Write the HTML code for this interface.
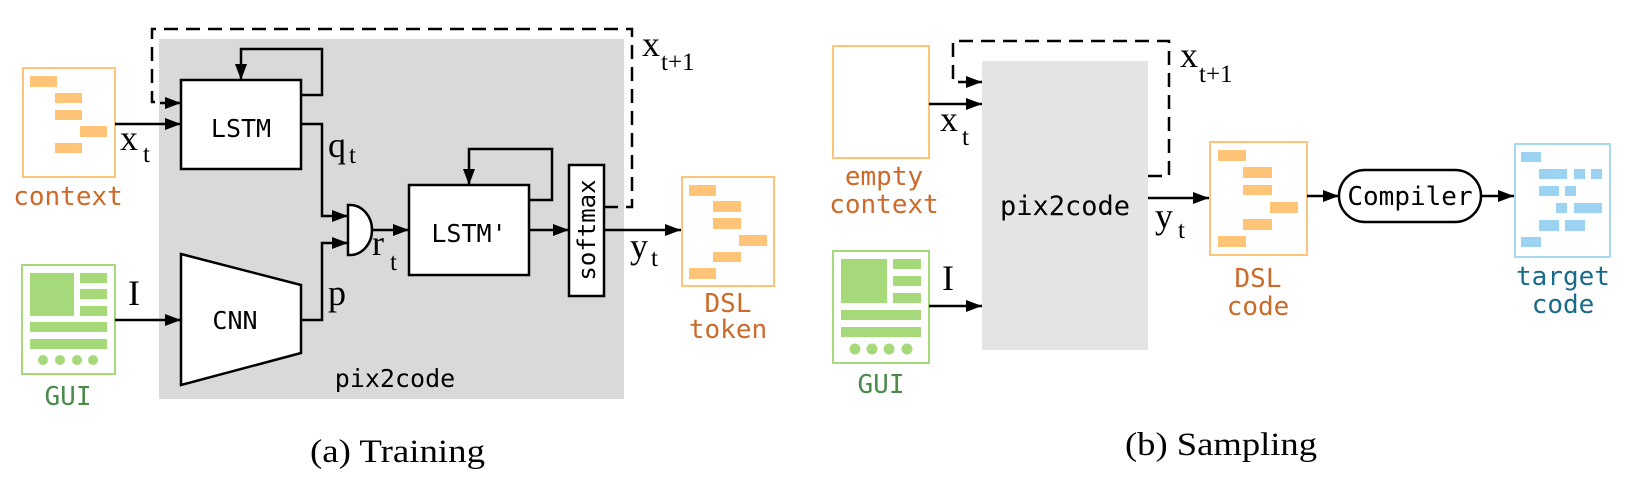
<!DOCTYPE html>
<html><head><meta charset="utf-8"><style>
html,body{margin:0;padding:0;background:#fff;}
svg{display:block;}
.m{font-family:"DejaVu Sans Mono","Liberation Mono",monospace;}
.s{font-family:"Liberation Serif",serif;}
</style></head><body>
<svg width="1633" height="480" viewBox="0 0 1633 480" xmlns="http://www.w3.org/2000/svg">
<defs>
<marker id="ah" markerWidth="16" markerHeight="12" refX="16" refY="6" orient="auto" markerUnits="userSpaceOnUse">
<path d="M0,0 L16,6 L0,12 z" fill="#000"/></marker>
</defs>

<!-- ===== (a) Training ===== -->
<rect x="159" y="39" width="465" height="360" fill="#d9d9d9"/>
<path d="M604,207 H632 V29 H152 V102 H160" fill="none" stroke="#000" stroke-width="2.5" stroke-dasharray="14,8"/>
<line x1="160" y1="103" x2="181" y2="103" stroke="#000" stroke-width="2.5" marker-end="url(#ah)"/>

<rect x="23" y="68" width="92" height="109" fill="#fff" stroke="#ffc47a" stroke-width="2"/>
<g fill="#ffc478">
<rect x="30" y="76" width="27" height="11"/>
<rect x="55" y="93" width="27" height="10"/>
<rect x="55" y="110" width="27" height="10"/>
<rect x="80" y="126" width="27" height="11"/>
<rect x="55" y="143" width="27" height="10"/>
</g>
<text x="68" y="205" class="m" font-size="26" fill="#cc6a2a" text-anchor="middle">context</text>

<rect x="22" y="265" width="93" height="109" fill="#fff" stroke="#a6d979" stroke-width="2"/>
<g fill="#a6d979">
<rect x="30" y="273" width="44" height="43"/>
<rect x="80" y="273" width="27" height="10"/>
<rect x="80" y="289" width="27" height="10"/>
<rect x="80" y="306" width="27" height="10"/>
<rect x="30" y="322" width="77" height="10"/>
<rect x="30" y="339" width="77" height="10"/>
<circle cx="43" cy="360" r="5"/><circle cx="60" cy="360" r="5"/><circle cx="77" cy="360" r="5"/><circle cx="93" cy="360" r="5"/>
</g>
<text x="68" y="405" class="m" font-size="26" fill="#4a8a4a" text-anchor="middle">GUI</text>

<line x1="115" y1="124" x2="181" y2="124" stroke="#000" stroke-width="2.5" marker-end="url(#ah)"/>
<line x1="115" y1="320" x2="181" y2="320" stroke="#000" stroke-width="2.5" marker-end="url(#ah)"/>
<text x="120" y="150" class="s" font-size="36">x</text><text x="143" y="162" class="s" font-size="25">t</text>
<text x="128" y="305" class="s" font-size="36">I</text>

<path d="M301,95 H322 V49 H241 V80" fill="none" stroke="#000" stroke-width="2.5" marker-end="url(#ah)"/>
<rect x="181" y="80" width="120" height="89" fill="#fff" stroke="#000" stroke-width="2.5"/>
<text x="241" y="137" class="m" font-size="25" text-anchor="middle">LSTM</text>

<path d="M181,254 L301,285 L301,353 L181,385 Z" fill="#fff" stroke="#000" stroke-width="2.5"/>
<text x="235" y="329" class="m" font-size="25" text-anchor="middle">CNN</text>

<path d="M301,124 H322 V216 H348" fill="none" stroke="#000" stroke-width="2.5" marker-end="url(#ah)"/>
<path d="M301,320 H322 V243 H348" fill="none" stroke="#000" stroke-width="2.5" marker-end="url(#ah)"/>
<text x="328" y="157" class="s" font-size="36">q</text><text x="349" y="163" class="s" font-size="25">t</text>
<text x="328" y="305" class="s" font-size="36">p</text>

<path d="M348,205 H350 A22,25 0 0 1 350,255 H348 Z" fill="#fff" stroke="#000" stroke-width="2.5"/>
<line x1="372" y1="230" x2="409" y2="230" stroke="#000" stroke-width="2.5" marker-end="url(#ah)"/>
<text x="372" y="255" class="s" font-size="36">r</text><text x="390" y="270" class="s" font-size="25">t</text>

<path d="M529,200 H552 V149 H469 V185" fill="none" stroke="#000" stroke-width="2.5" marker-end="url(#ah)"/>
<rect x="409" y="185" width="120" height="90" fill="#fff" stroke="#000" stroke-width="2.5"/>
<text x="469" y="242" class="m" font-size="25" text-anchor="middle">LSTM'</text>
<line x1="529" y1="230" x2="569" y2="230" stroke="#000" stroke-width="2.5" marker-end="url(#ah)"/>

<rect x="569" y="165" width="35" height="131" fill="#fff" stroke="#000" stroke-width="2.5"/>
<text transform="translate(595,230) rotate(-90)" class="m" font-size="24" text-anchor="middle">softmax</text>

<line x1="604" y1="230" x2="681" y2="230" stroke="#000" stroke-width="2.5" marker-end="url(#ah)"/>
<text x="630" y="258" class="s" font-size="36">y</text><text x="651" y="266" class="s" font-size="25">t</text>
<text x="642" y="56" class="s" font-size="36">x</text><text x="661" y="70" class="s" font-size="25">t+1</text>

<rect x="682" y="177" width="92" height="109" fill="#fff" stroke="#ffc47a" stroke-width="2"/>
<g fill="#ffc478">
<rect x="689" y="185" width="27" height="11"/>
<rect x="713" y="201" width="28" height="11"/>
<rect x="713" y="218" width="28" height="11"/>
<rect x="739" y="235" width="28" height="11"/>
<rect x="713" y="252" width="28" height="10"/>
<rect x="689" y="268" width="27" height="11"/>
</g>
<text x="728" y="312" class="m" font-size="26" fill="#cc6a2a" text-anchor="middle">DSL</text>
<text x="728" y="338" class="m" font-size="26" fill="#cc6a2a" text-anchor="middle">token</text>

<text x="395" y="387" class="m" font-size="25" text-anchor="middle">pix2code</text>
<text x="310" y="462" class="s" font-size="33" textLength="175" lengthAdjust="spacingAndGlyphs">(a) Training</text>

<!-- ===== (b) Sampling ===== -->
<rect x="982" y="61" width="166" height="289" fill="#e4e4e4"/>
<path d="M1148,176 H1169 V41 H953 V82 H962" fill="none" stroke="#000" stroke-width="2.5" stroke-dasharray="14,8"/>
<line x1="962" y1="82" x2="982" y2="82" stroke="#000" stroke-width="2.5" marker-end="url(#ah)"/>
<text x="1065" y="215" class="m" font-size="27" text-anchor="middle">pix2code</text>

<rect x="833" y="46" width="96" height="112" fill="#fff" stroke="#ffc47a" stroke-width="2"/>
<text x="884" y="185" class="m" font-size="26" fill="#cc6a2a" text-anchor="middle">empty</text>
<text x="884" y="213" class="m" font-size="26" fill="#cc6a2a" text-anchor="middle">context</text>

<rect x="833" y="251" width="96" height="112" fill="#fff" stroke="#a6d979" stroke-width="2"/>
<g fill="#a6d979">
<rect x="841" y="259" width="46" height="44"/>
<rect x="893" y="259" width="28" height="10"/>
<rect x="893" y="276" width="28" height="10"/>
<rect x="893" y="293" width="28" height="10"/>
<rect x="841" y="310" width="80" height="10"/>
<rect x="841" y="327" width="80" height="10"/>
<circle cx="855" cy="349" r="5.5"/><circle cx="872" cy="349" r="5.5"/><circle cx="889" cy="349" r="5.5"/><circle cx="907" cy="349" r="5.5"/>
</g>
<text x="881" y="393" class="m" font-size="26" fill="#4a8a4a" text-anchor="middle">GUI</text>

<line x1="929" y1="104" x2="982" y2="104" stroke="#000" stroke-width="2.5" marker-end="url(#ah)"/>
<line x1="929" y1="306" x2="982" y2="306" stroke="#000" stroke-width="2.5" marker-end="url(#ah)"/>
<text x="940" y="131" class="s" font-size="36">x</text><text x="962" y="145" class="s" font-size="25">t</text>
<text x="942" y="290" class="s" font-size="36">I</text>
<text x="1180" y="67" class="s" font-size="36">x</text><text x="1199" y="82" class="s" font-size="25">t+1</text>

<line x1="1148" y1="198" x2="1209" y2="198" stroke="#000" stroke-width="2.5" marker-end="url(#ah)"/>
<text x="1155" y="228" class="s" font-size="36">y</text><text x="1178" y="238" class="s" font-size="25">t</text>

<rect x="1210" y="142" width="97" height="113" fill="#fff" stroke="#ffc47a" stroke-width="2"/>
<g fill="#ffc478">
<rect x="1218" y="150" width="28" height="11"/>
<rect x="1243" y="167" width="29" height="11"/>
<rect x="1243" y="185" width="29" height="10"/>
<rect x="1270" y="202" width="28" height="11"/>
<rect x="1243" y="219" width="29" height="11"/>
<rect x="1218" y="236" width="28" height="11"/>
</g>
<text x="1258" y="287" class="m" font-size="26" fill="#cc6a2a" text-anchor="middle">DSL</text>
<text x="1258" y="315" class="m" font-size="26" fill="#cc6a2a" text-anchor="middle">code</text>

<line x1="1307" y1="196" x2="1339" y2="196" stroke="#000" stroke-width="2.5" marker-end="url(#ah)"/>
<rect x="1339" y="170" width="142" height="52" rx="26" ry="26" fill="#fff" stroke="#000" stroke-width="2.5"/>
<text x="1410" y="205" class="m" font-size="26" text-anchor="middle">Compiler</text>
<line x1="1481" y1="196" x2="1514" y2="196" stroke="#000" stroke-width="2.5" marker-end="url(#ah)"/>

<rect x="1515" y="144" width="95" height="113" fill="#fff" stroke="#a8d8f0" stroke-width="2"/>
<g fill="#9dd3f2">
<rect x="1521" y="152" width="20" height="10"/>
<rect x="1539" y="169" width="28" height="10"/><rect x="1574" y="169" width="11" height="10"/><rect x="1591" y="169" width="11" height="10"/>
<rect x="1539" y="186" width="20" height="10"/><rect x="1565" y="186" width="11" height="10"/>
<rect x="1556" y="203" width="11" height="10"/><rect x="1574" y="203" width="28" height="10"/>
<rect x="1539" y="220" width="20" height="11"/><rect x="1565" y="220" width="20" height="11"/>
<rect x="1521" y="237" width="20" height="10"/>
</g>
<text x="1563" y="285" class="m" font-size="26" fill="#1a6b8a" text-anchor="middle">target</text>
<text x="1563" y="313" class="m" font-size="26" fill="#1a6b8a" text-anchor="middle">code</text>

<text x="1125" y="455" class="s" font-size="33" textLength="192" lengthAdjust="spacingAndGlyphs">(b) Sampling</text>
</svg>
</body></html>
